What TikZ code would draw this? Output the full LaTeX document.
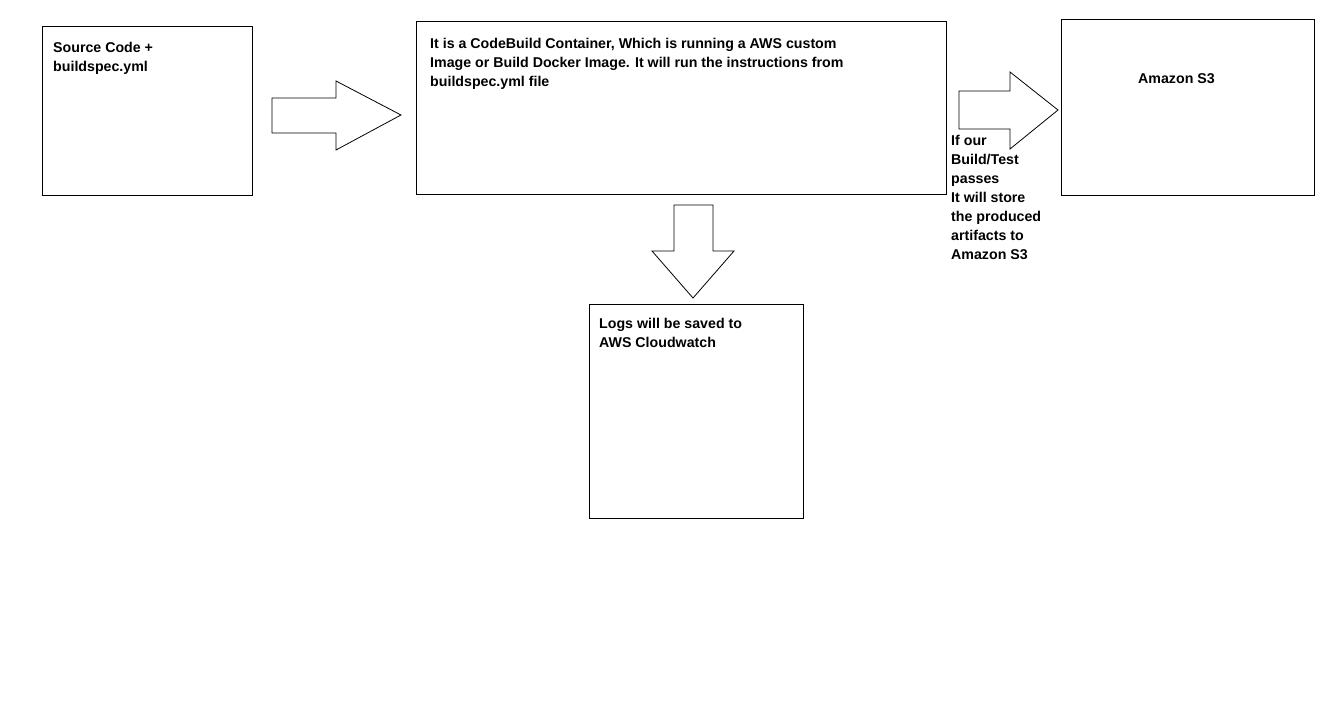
\documentclass[tikz,border=0pt]{standalone}
\usepackage{fontspec}
\setmainfont{Liberation Sans}
\begin{document}
\begin{tikzpicture}[x=1pt,y=-1pt,
  box/.style={draw=black,line width=0.8pt},
  txt/.style={anchor=north west,align=left,inner sep=0pt,font=\bfseries\fontsize{14.2}{19}\selectfont},
  blockarrow/.style={draw=black,fill=white,line width=0.8pt,line join=miter}]
\useasboundingbox (0,0) rectangle (1343,715);
\fill[white] (0,0) rectangle (1343,715);
\draw[box] (42,26) rectangle (252,195);
\draw[box] (416,21) rectangle (946,194);
\draw[box] (1061,19) rectangle (1314,195);
\draw[box] (589,304) rectangle (803,518);
\node[txt] (src) at (53,42) {Source Code +\\buildspec.yml};
\node[txt] (cb) at (430,38) {It is a CodeBuild Container, Which is running a AWS custom\\Image or Build Docker Image. It will run the instructions from\\buildspec.yml file};
\node[txt] (s3) at (1138,73) {Amazon S3};
\node[txt] (logs) at (599,318) {Logs will be saved to\\AWS Cloudwatch};
\node[txt] (note) at (951,135) {If our\\Build/Test\\passes\\It will store\\the produced\\artifacts to\\Amazon S3};
\draw[blockarrow] (272,98) -- (336,98) -- (336,81) -- (401,115) -- (336,150) -- (336,133) -- (272,133) -- cycle;
\draw[blockarrow] (959,91) -- (1010,91) -- (1010,72) -- (1058,110) -- (1010,149) -- (1010,129) -- (959,129) -- cycle;
\draw[blockarrow] (674,205) -- (713,205) -- (713,251) -- (734,251) -- (693,298) -- (652,251) -- (674,251) -- cycle;
\end{tikzpicture}
\end{document}
